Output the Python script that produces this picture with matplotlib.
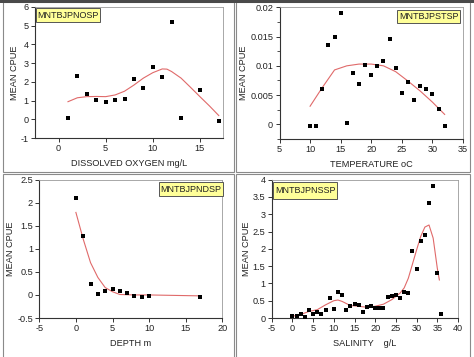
import matplotlib
matplotlib.use("Agg")
import matplotlib.pyplot as plt
from matplotlib.patches import Rectangle
import numpy as np

plt.rcParams['font.family'] = ['Liberation Sans', 'DejaVu Sans']
plt.rcParams['font.size'] = 6.6

# ---- Data ----
do_x = [1, 2, 3, 4, 5, 6, 7, 8, 9, 10, 11, 12, 13, 15, 17]
do_y = [0.08, 2.3, 1.35, 1.02, 0.9, 1.02, 1.07, 2.15, 1.68, 2.78, 2.27, 5.22, 0.05, 1.57, -0.07]
do_fit_x = [1, 2, 3, 4, 5, 6, 7, 8, 9, 10, 11, 11.5, 12, 13, 14, 15, 16, 17]
do_fit_y = [0.94, 1.15, 1.21, 1.22, 1.21, 1.3, 1.5, 1.83, 2.2, 2.49, 2.69, 2.68, 2.55, 2.2, 1.71, 1.21, 0.72, 0.2]

tp_x = [10, 11, 12, 13, 14, 15, 16, 17, 18, 19, 20, 21, 22, 23, 24, 25, 26, 27, 28, 29, 30, 31, 32]
tp_y = [-0.0002, -0.0002, 0.006, 0.0136, 0.015, 0.0191, 0.0002, 0.0087, 0.0069, 0.0101, 0.0084,
        0.0099, 0.0109, 0.0145, 0.0096, 0.0054, 0.0072, 0.0041, 0.0066, 0.0061, 0.0052, 0.0027, -0.0002]
tp_fit_x = [10, 12, 14, 16, 18, 20, 22, 24, 26, 28, 30, 32]
tp_fit_y = [0.0031, 0.0063, 0.0093, 0.0100, 0.0103, 0.0103, 0.0100, 0.0090, 0.0074, 0.0057, 0.0038, 0.0017]

dp_x = [0, 1, 2, 3, 4, 5, 6, 7, 8, 9, 10, 17]
dp_y = [2.1, 1.28, 0.23, 0.03, 0.09, 0.12, 0.09, 0.04, -0.02, -0.04, -0.02, -0.04]
dp_fit_x = [0, 1, 2, 3, 4, 5, 6, 8, 10, 17]
dp_fit_y = [1.79, 1.21, 0.70, 0.38, 0.16, 0.07, 0.01, 0.0, 0.0, -0.02]

sa_x = list(range(0, 37))
sa_y = [0.06, 0.06, 0.13, 0.02, 0.24, 0.12, 0.16, 0.13, 0.22, 0.57, 0.27, 0.75, 0.67, 0.24,
        0.35, 0.41, 0.38, 0.17, 0.31, 0.34, 0.29, 0.29, 0.29, 0.61, 0.64, 0.67, 0.58, 0.75,
        0.72, 1.94, 1.43, 2.23, 2.40, 3.32, 3.82, 1.30, 0.12]
sa_fit_x = [0, 2, 4, 6, 8, 10, 11, 12, 14, 16, 18, 20, 22, 24, 26, 27, 28, 29, 30, 31, 32, 33, 34, 35, 35.5]
sa_fit_y = [0.05, 0.1, 0.19, 0.24, 0.38, 0.5, 0.52, 0.48, 0.36, 0.34, 0.31, 0.34, 0.4, 0.53,
            0.72, 0.87, 1.15, 1.56, 1.97, 2.36, 2.63, 2.69, 2.31, 1.44, 1.1]

W, H = 474, 357
fig = plt.figure(figsize=(W / 100, H / 100), dpi=100)
fig.patch.set_facecolor('white')

def frac_rect(x0, y0, x1, y1):
    return [x0 / W, 1 - y1 / H, (x1 - x0) / W, (y1 - y0) / H]

# panel frames
for (x0, y0, x1, y1) in [(2.5, 2, 234, 172), (236, 2, 470, 172), (2.5, 174, 234, 360), (236, 174, 470, 360)]:
    fig.patches.append(Rectangle((x0 / W, 1 - y1 / H), (x1 - x0) / W, (y1 - y0) / H,
                                 transform=fig.transFigure, fill=False, edgecolor='#8a8a8a', lw=0.8))
fig.patches.append(Rectangle((0, 1 - 2.5 / H), 1, 2.5 / H, transform=fig.transFigure,
                             color='#4a4a4a', lw=0))

def make_ax(rect, xlim, ylim, xticks, yticks, yticklabels, xlabel, name, name_rect,
            xs, ys, fx, fy, minor_y=None):
    ax = fig.add_axes(frac_rect(*rect))
    ax.set_xlim(*xlim)
    ax.set_ylim(*ylim)
    ax.set_xticks(xticks)
    ax.set_xticklabels([str(t) for t in xticks])
    ax.set_yticks(yticks)
    ax.set_yticklabels(yticklabels)
    if minor_y is not None:
        ax.set_yticks(minor_y, minor=True)
    for s in ['top', 'right']:
        ax.spines[s].set_color('#9a9a9a')
        ax.spines[s].set_linewidth(0.6)
    for s in ['left', 'bottom']:
        ax.spines[s].set_color('#333333')
        ax.spines[s].set_linewidth(0.8)
    ax.tick_params(length=3, width=0.7, pad=1.5, colors='#333333', labelcolor='#222222')
    ax.tick_params(which='minor', length=2, width=0.6, colors='#333333')
    ax.set_xlabel(xlabel, labelpad=4, color='#222222')
    ax.set_ylabel('MEAN CPUE', labelpad=1.5, color='#222222')
    ax.plot(fx, fy, color='#e06a6a', lw=0.8, zorder=2)
    ax.scatter(xs, ys, s=5, marker='s', color='black', zorder=3, linewidths=0)
    # name box
    x0, y0, x1, y1 = name_rect
    fig.patches.append(Rectangle((x0 / W, 1 - y1 / H), (x1 - x0) / W, (y1 - y0) / H,
                                 transform=fig.transFigure, facecolor='#ffff99',
                                 edgecolor='#555555', lw=0.7, zorder=5))
    t = fig.text((x0 + x1) / 2 / W, 1 - (y0 + y1) / 2 / H, name, ha='center', va='center',
                 fontsize=6.5, color='#222222')
    t.set_zorder(6)
    return ax

make_ax((35, 7, 223, 138), (-2.5, 17.45), (-1, 6), [0, 5, 10, 15],
        list(range(-1, 7)), [str(v) for v in range(-1, 7)],
        'DISSOLVED OXYGEN mg/L', 'MNTBJPNOSP', (35.5, 8, 100, 22),
        do_x, do_y, do_fit_x, do_fit_y)

make_ax((279.5, 7.3, 463, 139), (5, 35), (-0.0025, 0.02), [5, 10, 15, 20, 25, 30, 35],
        [0, 0.005, 0.01, 0.015, 0.02], ['0', '0.005', '0.01', '0.015', '0.02'],
        'TEMPERATURE oC', 'MNTBJPSTSP', (397, 10, 460, 23),
        tp_x, tp_y, tp_fit_x, tp_fit_y,
        minor_y=[-0.0025, 0.0025, 0.0075, 0.0125, 0.0175])

make_ax((39.3, 179.7, 222.3, 318), (-5, 20), (-0.5, 2.5), [-5, 0, 5, 10, 15, 20],
        [-0.5, 0, 0.5, 1, 1.5, 2, 2.5], ['-0.5', '0', '0.5', '1', '1.5', '2', '2.5'],
        'DEPTH m', 'MNTBJPNDSP', (159, 182, 223, 196),
        dp_x, dp_y, dp_fit_x, dp_fit_y)

make_ax((271.7, 179.7, 458, 318), (-5, 40), (0, 4), [-5, 0, 5, 10, 15, 20, 25, 30, 35, 40],
        [0, 0.5, 1, 1.5, 2, 2.5, 3, 3.5, 4], ['0', '0.5', '1', '1.5', '2', '2.5', '3', '3.5', '4'],
        'SALINITY    g/L', 'MNTBJPNSSP', (273, 182, 337, 199),
        sa_x, sa_y, sa_fit_x, sa_fit_y)

fig.savefig('out.png', dpi=100)
